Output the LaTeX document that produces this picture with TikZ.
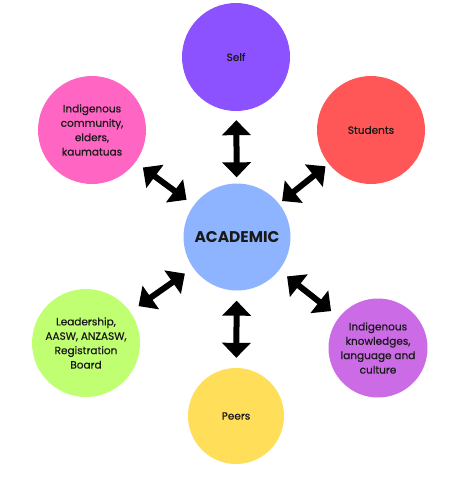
\documentclass[tikz,border=0pt]{standalone}
\usepackage{fontspec}
\setmainfont{Poppins}
\newfontfamily\labelfont{Poppins}[FakeBold=0.6]
\usepackage{tikz}
\usetikzlibrary{arrows.meta}
\definecolor{selfpurple}{HTML}{8C52FF}
\definecolor{commpink}{HTML}{FF66C4}
\definecolor{studred}{HTML}{FF5757}
\definecolor{acadblue}{HTML}{8FB4FF}
\definecolor{leadgreen}{HTML}{C1FF72}
\definecolor{knowviolet}{HTML}{CB6CE6}
\definecolor{peeryellow}{HTML}{FFDE59}

\begin{document}
\begin{tikzpicture}[
  x=1pt, y=-1pt,
  bubble/.style={circle, inner sep=0pt, minimum size=108pt, align=center,
    font=\labelfont\fontsize{10.5}{14.4}\selectfont, text=black!90},
  dbl/.style={{Triangle[width=28pt,length=15pt]}-{Triangle[width=28pt,length=15pt]},
    line width=6pt, black, shorten <=9pt, shorten >=9pt}
]
\useasboundingbox (0,0) rectangle (474,479);

\node[bubble, fill=acadblue, minimum size=107pt,
  font=\fontsize{15.5}{18}\selectfont\bfseries] (acad) at (237,237) {ACADEMIC};
\node[bubble, fill=selfpurple] (self) at (236,57) {Self};
\node[bubble, fill=commpink] (comm) at (92,130) {Indigenous\\community,\\elders,\\kaumatuas};
\node[bubble, fill=studred] (stud) at (371,130) {Students};
\node[bubble, fill=leadgreen] (lead) at (86,343) {Leadership,\\AASW, ANZASW,\\Registration\\Board};
\node[bubble, fill=knowviolet, minimum size=99pt] (know) at (378,348) {Indigenous\\knowledges,\\language and\\culture};
\node[bubble, fill=peeryellow, minimum size=96pt] (peer) at (236,416) {Peers};

% arrows between academic and the others
\draw[dbl, shorten <=6pt] (acad) -- (self);
\draw[dbl] (acad) -- (comm);
\draw[dbl, shorten <=4pt, shorten >=4pt] (acad) -- (stud);
\draw[dbl, shorten <=10pt, shorten >=10pt] (acad) -- (lead);
\draw[dbl, shorten <=10pt, shorten >=10pt] (acad) -- (know);
\draw[dbl, shorten <=10pt, shorten >=10pt] (acad) -- (peer);
\end{tikzpicture}
\end{document}
